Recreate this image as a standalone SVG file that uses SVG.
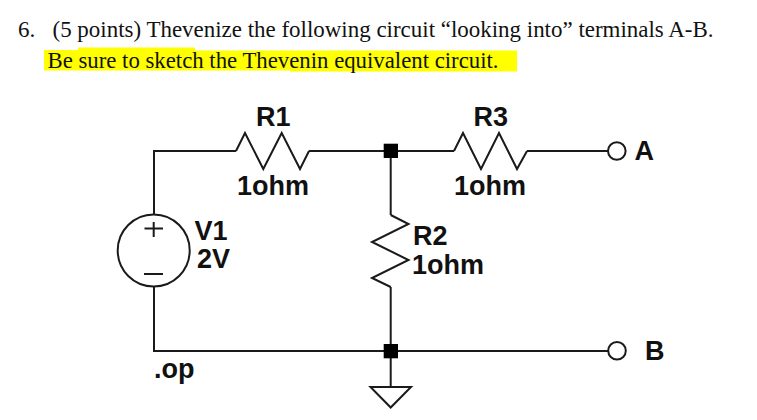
<svg xmlns="http://www.w3.org/2000/svg" width="757" height="420" viewBox="0 0 757 420">
<style>
.w{fill:none;stroke:#1a1a1a;stroke-width:2;stroke-linejoin:miter}
.t{font-family:"Liberation Serif",serif;font-size:23px;fill:#111}
.l{font-family:"Liberation Sans",sans-serif;font-size:27px;font-weight:bold;fill:#111}
.j{fill:#000}
</style>
<rect width="757" height="420" fill="#fff"/>
<g id="question">
<path d="M44 50H78V47.5H195V50.5H517V71.5H290V70.5H44Z" fill="#ffff00"/>
<text class="t" x="18" y="37">6.</text>
<text class="t" x="52.500" y="37" textLength="661" lengthAdjust="spacingAndGlyphs">(5 points) Thevenize the following circuit “looking into” terminals A-B.</text>
<text class="t" x="47.500" y="67.500" textLength="451" lengthAdjust="spacingAndGlyphs">Be sure to sketch the Thevenin equivalent circuit.</text>
</g>
<g id="connectors">
<path class="w" d="M154 214V151H236"/>
<path class="w" d="M309 151H454"/>
<path class="w" d="M527 151H608"/>
<path class="w" d="M390.700 151V215"/>
<path class="w" d="M390.700 287V387"/>
<path class="w" d="M154 287V351H608"/>
</g>
<g id="V1">
<circle class="w" cx="153.700" cy="250.500" r="36"/>
<path class="w" d="M144.500 228.500H163M153.700 222V237M144 274H163"/>
<text class="l" x="194.500" y="240">V1</text>
<text class="l" x="197" y="268">2V</text>
</g>
<g id="R1">
<path class="w" d="M236 151L245 133L263.300 169L281.700 133L300 169L309 151"/>
<text class="l" x="256" y="126">R1</text>
<text class="l" x="237" y="195">1ohm</text>
</g>
<g id="R3">
<path class="w" d="M454 151L463 133L481 169L499 133L517 169L527 151"/>
<text class="l" x="473.500" y="126">R3</text>
<text class="l" x="454" y="195">1ohm</text>
</g>
<g id="R2">
<path class="w" d="M390.700 215L408.500 224L372 242L408.500 260L372 278L390.700 287"/>
<text class="l" x="413" y="244.500">R2</text>
<text class="l" x="412" y="273.500">1ohm</text>
</g>
<g id="node-top"><rect class="j" x="383.700" y="143.700" width="14.300" height="14.300"/></g>
<g id="node-bottom"><rect class="j" x="383.700" y="344" width="14.300" height="14.300"/></g>
<g id="ground"><path class="w" d="M370.500 387H411L390.700 407.500Z"/></g>
<g id="terminal-A">
<circle class="w" cx="616.800" cy="151" r="8.800"/>
<text class="l" x="634.500" y="160">A</text>
</g>
<g id="terminal-B">
<circle class="w" cx="617" cy="350.800" r="8.800"/>
<text class="l" x="645" y="360">B</text>
</g>
<g id="directive"><text class="l" x="154" y="378">.op</text></g>
</svg>
